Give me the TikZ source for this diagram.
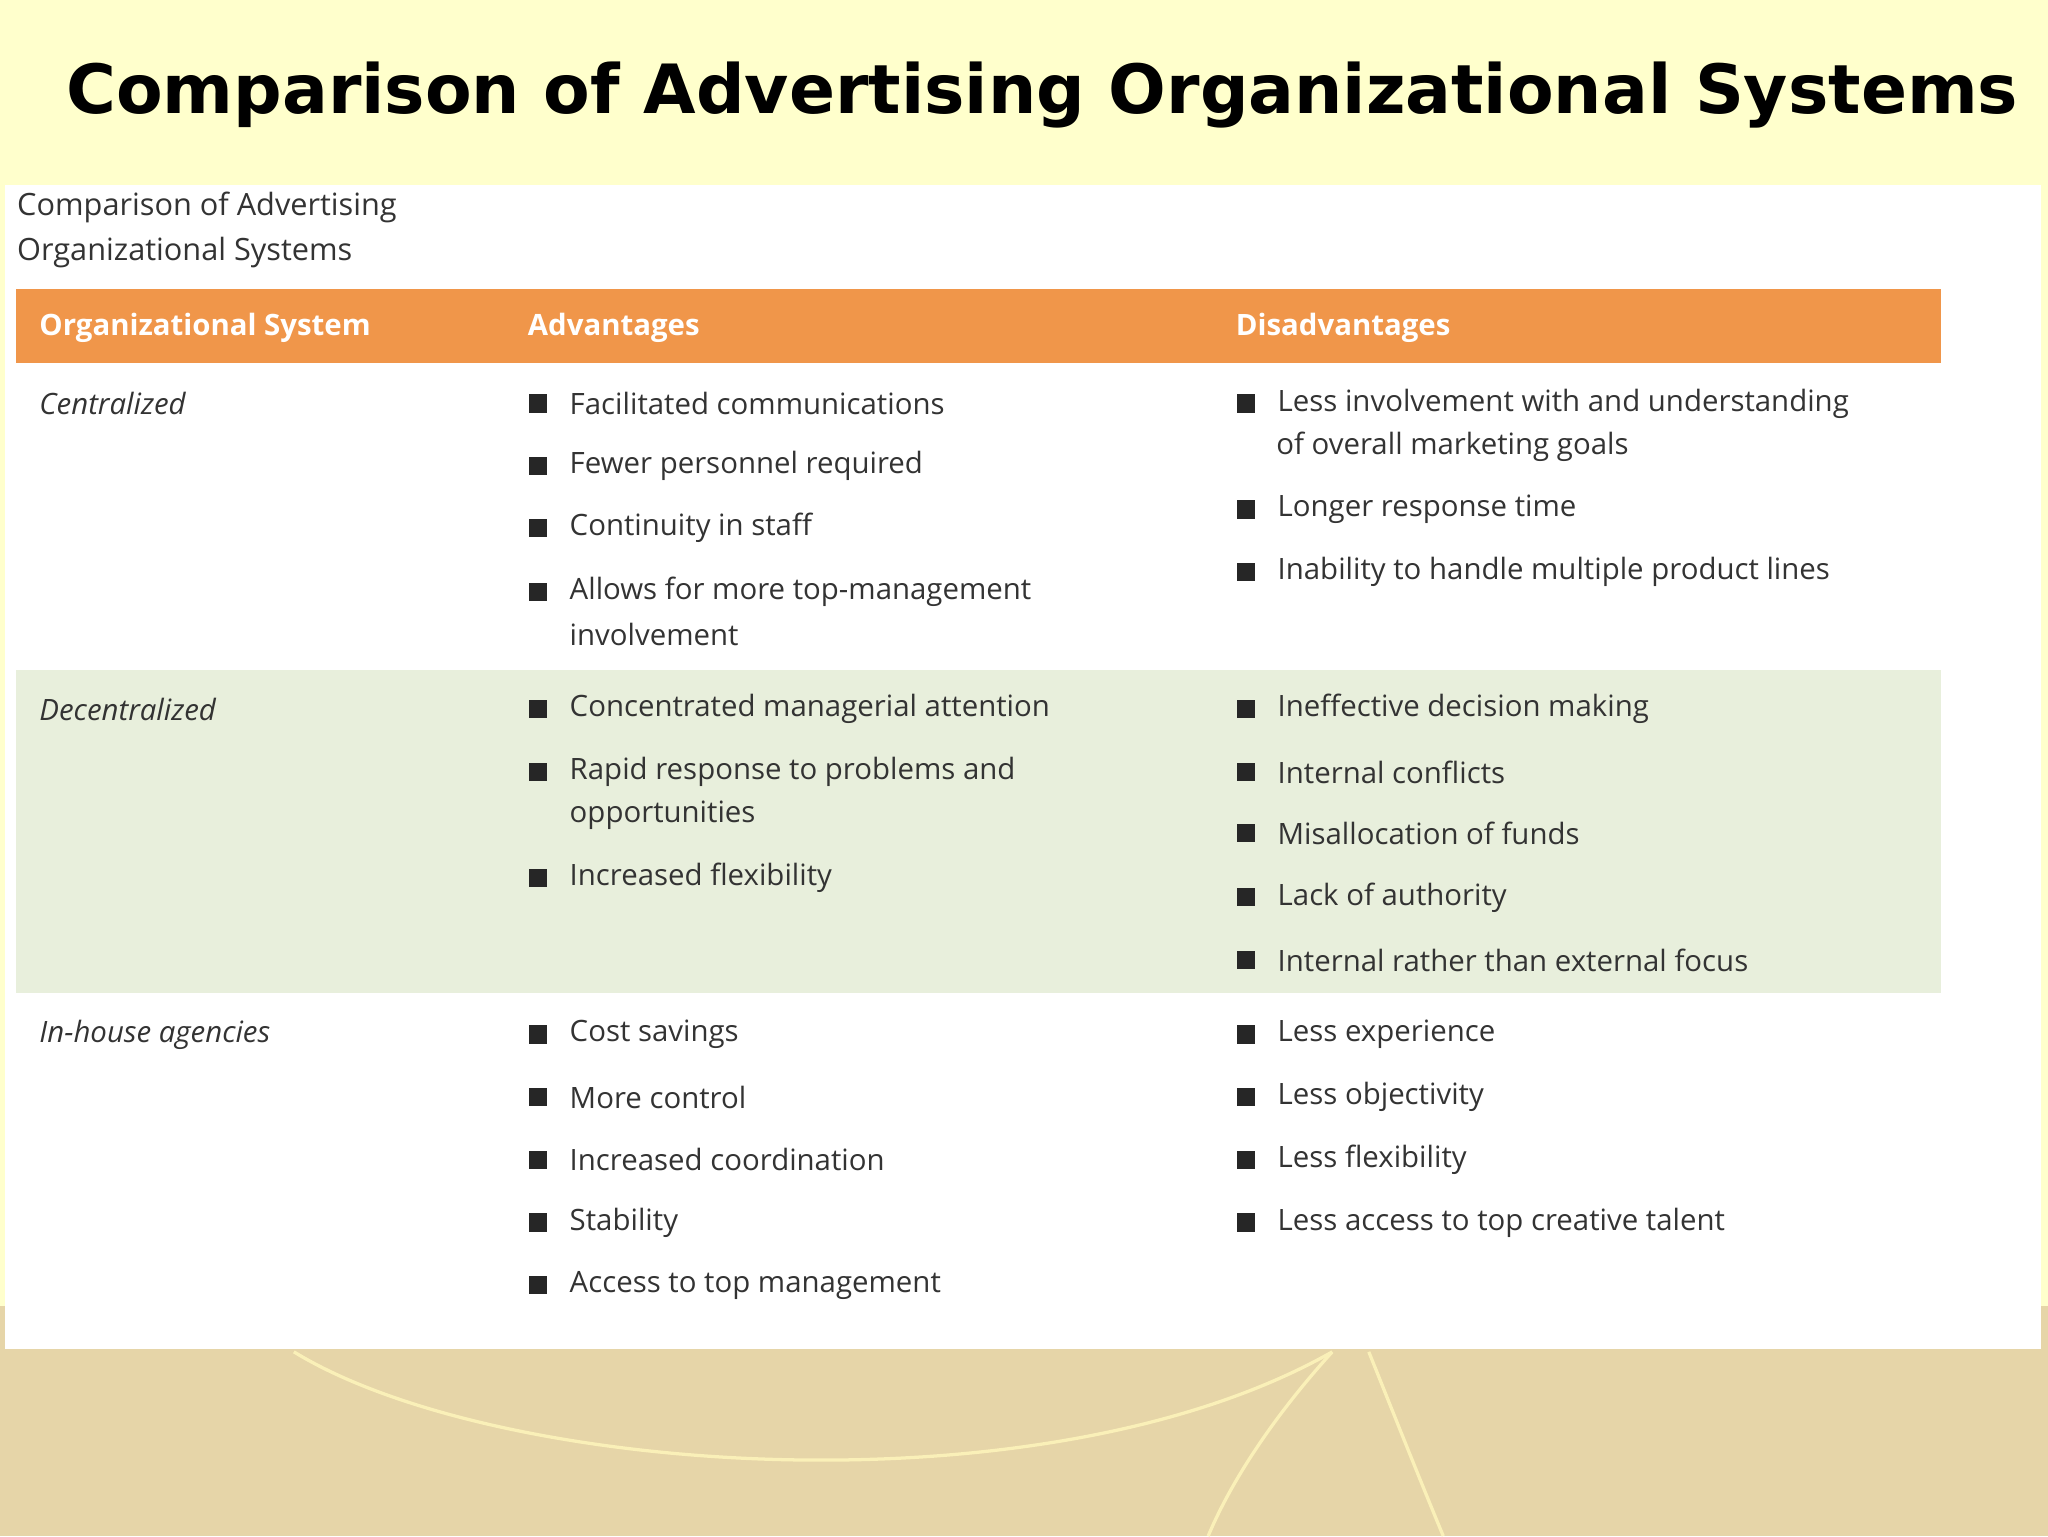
\documentclass[tikz,border=0pt]{standalone}
\usepackage{fontspec}
\setmainfont{Open Sans}
\newfontfamily\titlefont{DejaVu Sans}
\definecolor{bgyel}{HTML}{FFFFCC}
\definecolor{bgtan}{HTML}{E6D5A8}
\definecolor{curve}{HTML}{FAF0B8}
\definecolor{orangebar}{HTML}{F0964A}
\definecolor{greenrow}{HTML}{E8EFDC}
\definecolor{txt}{HTML}{333333}
\tikzset{
 body/.style={anchor=west,inner sep=0pt,font=\fontsize{22.5}{33}\selectfont,text=txt,align=left},
 head/.style={anchor=west,inner sep=0pt,font=\fontsize{22.5}{26}\selectfont\bfseries,text=white},
 rowlab/.style={body,font=\fontsize{22.5}{26}\selectfont\itshape},
 bul/.style={fill=black!85,minimum size=14pt,inner sep=0pt}
}
\newcommand{\itm}[4]{\node[bul] (#1b) at (#2,#3) {};\node[body] (#1) at (#2+24,#3) {#4};}
\begin{document}
\begin{tikzpicture}[x=1pt,y=-1pt]
\useasboundingbox (0,0) rectangle (1568,1176);
\fill[bgyel] (0,0) rectangle (1568,1176);
\fill[bgtan] (0,1000) rectangle (1568,1176);
\draw[curve,line width=2.5pt] (225,1035) .. controls (380,1130) and (800,1160) .. (1020,1035);
\draw[curve,line width=2.5pt] (1020,1035) .. controls (970,1090) and (940,1140) .. (925,1176);
\draw[curve,line width=2.5pt] (1048,1035) .. controls (1070,1090) and (1090,1140) .. (1105,1176);
\fill[white] (4,142) rectangle (1563,1033);
\node[font=\titlefont\bfseries\fontsize{52}{60}\selectfont] (title) at (798,73) {Comparison of Advertising Organizational Systems};
\node[body,font=\fontsize{23.5}{35}\selectfont] (cap) at (13,176) {Comparison of Advertising\\Organizational Systems};
\fill[orangebar] (12,221) rectangle (1486,278);
\fill[greenrow] (12,513) rectangle (1486,760);
\node[head] (h1) at (30,251) {Organizational System};
\node[head] (h2) at (404,251) {Advantages};
\node[head] (h3) at (946,251) {Disadvantages};
\node[rowlab] (r1) at (30,309) {Centralized};
\node[rowlab] (r2) at (30,543) {Decentralized};
\node[rowlab] (r3) at (30,792) {In-house agencies};
\itm{a1}{412}{309}{Facilitated communications}
\itm{a2}{412}{357}{Fewer personnel required}
\itm{a3}{412}{404}{Continuity in staff}
\itm{a4}{412}{453}{Allows for more top-management}
\node[body] (a4c) at (436,486) {involvement};
\itm{d1}{954}{309}{Less involvement with and understanding}
\node[body] (d1c) at (977,342) {of overall marketing goals};
\itm{d2}{954}{390}{Longer response time}
\itm{d3}{954}{438}{Inability to handle multiple product lines}
\itm{a5}{412}{543}{Concentrated managerial attention}
\itm{a6}{412}{591}{Rapid response to problems and}
\node[body] (a6c) at (436,624) {opportunities};
\itm{a7}{412}{672}{Increased flexibility}
\itm{d4}{954}{543}{Ineffective decision making}
\itm{d5}{954}{591}{Internal conflicts}
\itm{d6}{954}{638}{Misallocation of funds}
\itm{d7}{954}{687}{Lack of authority}
\itm{d8}{954}{735}{Internal rather than external focus}
\itm{a8}{412}{792}{Cost savings}
\itm{a9}{412}{840}{More control}
\itm{a10}{412}{888}{Increased coordination}
\itm{a11}{412}{936}{Stability}
\itm{a12}{412}{984}{Access to top management}
\itm{d9}{954}{792}{Less experience}
\itm{d10}{954}{840}{Less objectivity}
\itm{d11}{954}{888}{Less flexibility}
\itm{d12}{954}{936}{Less access to top creative talent}
\end{tikzpicture}
\end{document}
